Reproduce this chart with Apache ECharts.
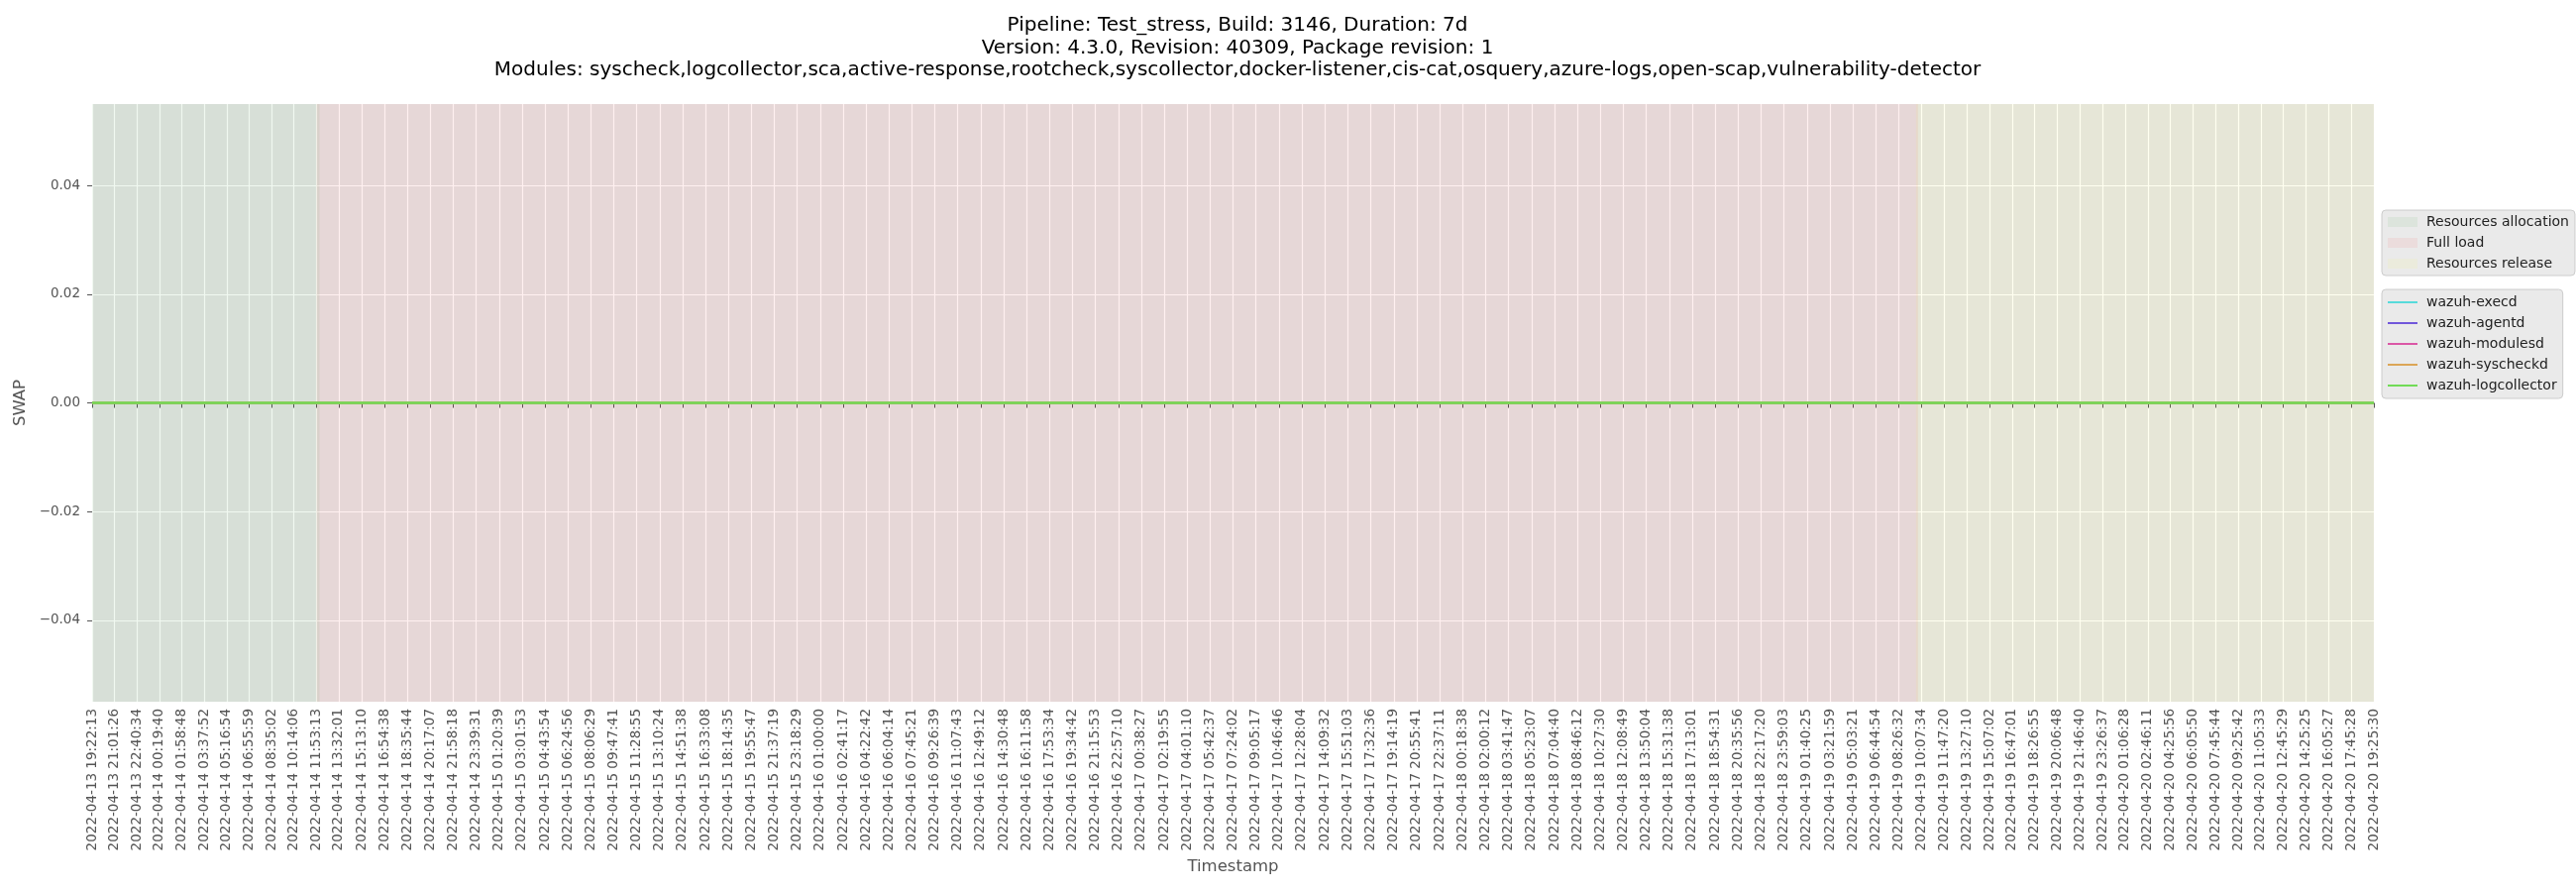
<!DOCTYPE html>
<html lang="en">
<head>
    <meta charset="UTF-8">
    <title>SWAP</title>
    <script src="https://cdn.jsdelivr.net/npm/echarts@6/dist/echarts.min.js"></script>
    <style>
        html, body { margin: 0; padding: 0; background: #fff; }
    </style>
</head>
<body>
<div id="main" style="width: 2600px;height:900px;"></div>

<script type="text/javascript">
    // tick timestamps (one per sample shown on the axis)
    var timestamps = [
        '2022-04-13 19:22:13', '2022-04-13 21:01:26', '2022-04-13 22:40:34', '2022-04-14 00:19:40',
        '2022-04-14 01:58:48', '2022-04-14 03:37:52', '2022-04-14 05:16:54', '2022-04-14 06:55:59',
        '2022-04-14 08:35:02', '2022-04-14 10:14:06', '2022-04-14 11:53:13', '2022-04-14 13:32:01',
        '2022-04-14 15:13:10', '2022-04-14 16:54:38', '2022-04-14 18:35:44', '2022-04-14 20:17:07',
        '2022-04-14 21:58:18', '2022-04-14 23:39:31', '2022-04-15 01:20:39', '2022-04-15 03:01:53',
        '2022-04-15 04:43:54', '2022-04-15 06:24:56', '2022-04-15 08:06:29', '2022-04-15 09:47:41',
        '2022-04-15 11:28:55', '2022-04-15 13:10:24', '2022-04-15 14:51:38', '2022-04-15 16:33:08',
        '2022-04-15 18:14:35', '2022-04-15 19:55:47', '2022-04-15 21:37:19', '2022-04-15 23:18:29',
        '2022-04-16 01:00:00', '2022-04-16 02:41:17', '2022-04-16 04:22:42', '2022-04-16 06:04:14',
        '2022-04-16 07:45:21', '2022-04-16 09:26:39', '2022-04-16 11:07:43', '2022-04-16 12:49:12',
        '2022-04-16 14:30:48', '2022-04-16 16:11:58', '2022-04-16 17:53:34', '2022-04-16 19:34:42',
        '2022-04-16 21:15:53', '2022-04-16 22:57:10', '2022-04-17 00:38:27', '2022-04-17 02:19:55',
        '2022-04-17 04:01:10', '2022-04-17 05:42:37', '2022-04-17 07:24:02', '2022-04-17 09:05:17',
        '2022-04-17 10:46:46', '2022-04-17 12:28:04', '2022-04-17 14:09:32', '2022-04-17 15:51:03',
        '2022-04-17 17:32:36', '2022-04-17 19:14:19', '2022-04-17 20:55:41', '2022-04-17 22:37:11',
        '2022-04-18 00:18:38', '2022-04-18 02:00:12', '2022-04-18 03:41:47', '2022-04-18 05:23:07',
        '2022-04-18 07:04:40', '2022-04-18 08:46:12', '2022-04-18 10:27:30', '2022-04-18 12:08:49',
        '2022-04-18 13:50:04', '2022-04-18 15:31:38', '2022-04-18 17:13:01', '2022-04-18 18:54:31',
        '2022-04-18 20:35:56', '2022-04-18 22:17:20', '2022-04-18 23:59:03', '2022-04-19 01:40:25',
        '2022-04-19 03:21:59', '2022-04-19 05:03:21', '2022-04-19 06:44:54', '2022-04-19 08:26:32',
        '2022-04-19 10:07:34', '2022-04-19 11:47:20', '2022-04-19 13:27:10', '2022-04-19 15:07:02',
        '2022-04-19 16:47:01', '2022-04-19 18:26:55', '2022-04-19 20:06:48', '2022-04-19 21:46:40',
        '2022-04-19 23:26:37', '2022-04-20 01:06:28', '2022-04-20 02:46:11', '2022-04-20 04:25:56',
        '2022-04-20 06:05:50', '2022-04-20 07:45:44', '2022-04-20 09:25:42', '2022-04-20 11:05:33',
        '2022-04-20 12:45:29', '2022-04-20 14:25:25', '2022-04-20 16:05:27', '2022-04-20 17:45:28',
        '2022-04-20 19:25:30'
    ];

    // SWAP per daemon, one value per timestamp (all zero in this run)
    var execdSwap = [0,0,0,0,0,0,0,0,0,0,0,0,0,0,0,0,0,0,0,0,0,0,0,0,0,0,0,0,0,0,0,0,0,0,0,0,0,0,0,0,0,0,0,0,0,0,0,0,0,0,0,0,0,0,0,0,0,0,0,0,0,0,0,0,0,0,0,0,0,0,0,0,0,0,0,0,0,0,0,0,0,0,0,0,0,0,0,0,0,0,0,0,0,0,0,0,0,0,0,0,0];
    var agentdSwap = [0,0,0,0,0,0,0,0,0,0,0,0,0,0,0,0,0,0,0,0,0,0,0,0,0,0,0,0,0,0,0,0,0,0,0,0,0,0,0,0,0,0,0,0,0,0,0,0,0,0,0,0,0,0,0,0,0,0,0,0,0,0,0,0,0,0,0,0,0,0,0,0,0,0,0,0,0,0,0,0,0,0,0,0,0,0,0,0,0,0,0,0,0,0,0,0,0,0,0,0,0];
    var modulesdSwap = [0,0,0,0,0,0,0,0,0,0,0,0,0,0,0,0,0,0,0,0,0,0,0,0,0,0,0,0,0,0,0,0,0,0,0,0,0,0,0,0,0,0,0,0,0,0,0,0,0,0,0,0,0,0,0,0,0,0,0,0,0,0,0,0,0,0,0,0,0,0,0,0,0,0,0,0,0,0,0,0,0,0,0,0,0,0,0,0,0,0,0,0,0,0,0,0,0,0,0,0,0];
    var syscheckdSwap = [0,0,0,0,0,0,0,0,0,0,0,0,0,0,0,0,0,0,0,0,0,0,0,0,0,0,0,0,0,0,0,0,0,0,0,0,0,0,0,0,0,0,0,0,0,0,0,0,0,0,0,0,0,0,0,0,0,0,0,0,0,0,0,0,0,0,0,0,0,0,0,0,0,0,0,0,0,0,0,0,0,0,0,0,0,0,0,0,0,0,0,0,0,0,0,0,0,0,0,0,0];
    var logcollectorSwap = [0,0,0,0,0,0,0,0,0,0,0,0,0,0,0,0,0,0,0,0,0,0,0,0,0,0,0,0,0,0,0,0,0,0,0,0,0,0,0,0,0,0,0,0,0,0,0,0,0,0,0,0,0,0,0,0,0,0,0,0,0,0,0,0,0,0,0,0,0,0,0,0,0,0,0,0,0,0,0,0,0,0,0,0,0,0,0,0,0,0,0,0,0,0,0,0,0,0,0,0,0];

    var daemonNames = ['wazuh-execd', 'wazuh-agentd', 'wazuh-modulesd', 'wazuh-syscheckd', 'wazuh-logcollector'];
    var daemonColors = ['#57dbdb', '#7157db', '#db57a6', '#dba657', '#71db57'];

    // test phases
    var phaseNames = ['Resources allocation', 'Full load', 'Resources release'];
    var phaseStart = ['2022-04-13 19:22:13', '2022-04-14 11:53:13', '2022-04-19 09:42:00'];
    var phaseEnd = ['2022-04-14 12:07:00', '2022-04-19 09:51:00', '2022-04-20 19:25:30'];
    var phaseColors = ['rgba(0,128,0,0.06)', 'rgba(255,0,0,0.06)', 'rgba(255,255,0,0.06)'];

    var yTicks = [-0.04, -0.02, 0, 0.02, 0.04];

    function toMs(s) {
        var p = s.split(/[- :]/);
        return Date.UTC(+p[0], +p[1] - 1, +p[2], +p[3], +p[4], +p[5]);
    }
    function pad(n) { return (n < 10 ? '0' : '') + n; }
    function fmt(ms) {
        var d = new Date(ms);
        return d.getUTCFullYear() + '-' + pad(d.getUTCMonth() + 1) + '-' + pad(d.getUTCDate()) + ' ' +
            pad(d.getUTCHours()) + ':' + pad(d.getUTCMinutes()) + ':' + pad(d.getUTCSeconds());
    }

    var tickMs = timestamps.map(toMs);
    var swapData = [execdSwap, agentdSwap, modulesdSwap, syscheckdSwap, logcollectorSwap];

    var series = [];
    // phase bands
    phaseNames.forEach(function (name, i) {
        series.push({
            name: name,
            type: 'line',
            data: [],
            color: phaseColors[i],
            z: 1,
            markArea: {
                silent: true,
                itemStyle: {color: phaseColors[i]},
                data: [[{xAxis: toMs(phaseStart[i])}, {xAxis: toMs(phaseEnd[i])}]]
            }
        });
    });
    // daemon lines
    daemonNames.forEach(function (name, i) {
        series.push({
            name: name,
            type: 'line',
            showSymbol: false,
            symbol: 'none',
            color: daemonColors[i],
            lineStyle: {width: 2.3, color: daemonColors[i], opacity: 1},
            z: 10 + i,
            data: tickMs.map(function (t, k) { return [t, swapData[i][k]]; })
        });
    });

    var myChart = echarts.init(document.getElementById('main'));
    myChart.setOption({
        animation: false,
        textStyle: {fontFamily: 'DejaVu Sans'},
        title: {
            text: 'Pipeline: Test_stress, Build: 3146, Duration: 7d\n' +
                'Version: 4.3.0, Revision: 40309, Package revision: 1\n' +
                'Modules: syscheck,logcollector,sca,active-response,rootcheck,syscollector,docker-listener,cis-cat,osquery,azure-logs,open-scap,vulnerability-detector',
            left: 1244,
            top: 10,
            textAlign: 'center',
            textStyle: {fontSize: 20, fontWeight: 'normal', color: '#000', lineHeight: 22.5, fontFamily: 'DejaVu Sans'}
        },
        legend: [{
            data: phaseNames,
            orient: 'vertical',
            left: 2404,
            top: 212,
            icon: 'rect',
            itemWidth: 30,
            itemHeight: 10,
            itemGap: 5,
            padding: [4, 6, 4, 6],
            backgroundColor: 'rgba(229,229,229,0.8)',
            borderColor: '#cccccc',
            borderWidth: 1,
            borderRadius: 4,
            textStyle: {fontSize: 14, color: '#222', lineHeight: 16, padding: [0, 0, 0, 4]}
        }, {
            data: daemonNames,
            orient: 'vertical',
            left: 2404,
            top: 292,
            icon: 'rect',
            itemWidth: 30,
            itemHeight: 2,
            itemGap: 5,
            padding: [5, 6, 5, 6],
            backgroundColor: 'rgba(229,229,229,0.8)',
            borderColor: '#cccccc',
            borderWidth: 1,
            borderRadius: 4,
            textStyle: {fontSize: 14, color: '#222', lineHeight: 16, padding: [0, 0, 0, 4]}
        }],
        grid: {
            left: 93,
            right: 204,
            top: 105,
            bottom: 192,
            show: true,
            backgroundColor: '#E5E5E5',
            borderWidth: 0
        },
        xAxis: {
            type: 'value',
            min: tickMs[0],
            max: tickMs[tickMs.length - 1],
            name: 'Timestamp',
            nameLocation: 'middle',
            nameGap: 158,
            nameTextStyle: {fontSize: 16.5, color: '#555'},
            axisLine: {show: false},
            axisTick: {show: true, length: 5, lineStyle: {color: '#555'}, customValues: tickMs},
            axisLabel: {
                customValues: tickMs,
                rotate: 90,
                margin: 7,
                fontSize: 13.5,
                color: '#555',
                formatter: function (v) { return fmt(v); }
            },
            splitLine: {show: true, lineStyle: {color: '#ffffff', width: 1.2}}
        },
        yAxis: {
            type: 'value',
            min: -0.055,
            max: 0.055,
            name: 'SWAP',
            nameLocation: 'middle',
            nameGap: 62,
            nameTextStyle: {fontSize: 16.5, color: '#555'},
            axisLine: {show: false},
            axisTick: {show: true, length: 5, lineStyle: {color: '#555'}, customValues: yTicks},
            axisLabel: {
                customValues: yTicks,
                margin: 12,
                fontSize: 13.5,
                color: '#555',
                formatter: function (v) { return v.toFixed(2).replace('-', '\u2212'); }
            },
            splitLine: {show: true, lineStyle: {color: '#ffffff', width: 1.2}}
        },
        series: series
    });
</script>
</body>
</html>
